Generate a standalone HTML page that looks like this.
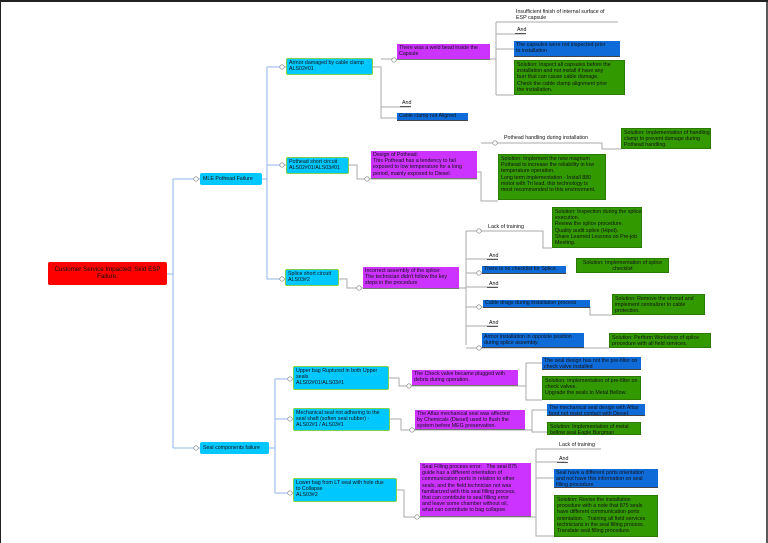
<!DOCTYPE html>
<html><head><meta charset="utf-8"><style>
html,body{margin:0;padding:0;background:#fff}
#c{position:relative;width:768px;height:543px;overflow:hidden;background:#fff;border-top:2px solid #222;border-left:1px solid #222;box-sizing:border-box}
.b{position:absolute;font-family:"Liberation Sans",sans-serif;font-size:5.3px;line-height:6.2px;color:#111;padding:1px 2px;box-sizing:border-box;white-space:nowrap;overflow:visible}
.m{background:#cc33ff;border-bottom:1px solid #777}
.g{background:#339900;border:1px solid #2a7a00}
.u{background:#0f6bd8;border-bottom:1px solid #444}
.c{background:#00c8ff;border:1px solid #7fd04a;border-radius:2px}
.t{border-bottom:1px solid #555;padding:0 2px}
</style></head><body><div id="c">
<svg width="768" height="543" style="position:absolute;left:0;top:0" fill="none">
<line x1="766" y1="0" x2="766" y2="543" stroke="#222" stroke-width="1.5"/>
<g stroke="#8fb4e6" stroke-width="1">
<path d="M166 272 H172 M172 177 V446 M172 177 H199 M172 446 H199"/>
<path d="M261 177 H266 M266 65 V277 M266 65 H285 M266 163 H285 M266 277 H284"/>
<path d="M268 446 H274 M274 377 V491 M274 377 H292 M274 417 H292 M274 491 H292"/>
</g>
<g stroke="#aaa" stroke-width="1">
<path d="M372 65 H380 V116 H396 M380 57 H489 M380 105 H410"/>
<path d="M489 57 H495 M495 20 V93 M495 20 H617 M495 32 H525 M495 47 H513 M495 93 H513"/>
<path d="M348 163 H356 V177 H476 M476 170 H480 V199 H497 M480 141 H601 V147 H620"/>
<path d="M338 277 H346 V286 H458 M458 286 H465 M465 229 V343 M465 229 H542 V246 H551 M465 257 H497 M465 271 H565 M465 285 H497 M465 305 H589 V313 H611 M465 324 H497 M465 346 H608"/>
<path d="M388 376 H398 V384 H517 M517 384 H525 M525 361 V398 H541 M525 361 H541"/>
<path d="M389 417 H400 V428 H524 M524 428 H531 M531 408 V430 H546 M531 408 H546"/>
<path d="M396 488 H403 V515 H530 M530 515 H535 M535 447 V534 H553 M535 447 H600 M535 460 H565 M535 476 H553"/>
</g>
<g stroke="#777" stroke-width="0.6" fill="#fff">
<circle cx="195" cy="177" r="2.2"/><circle cx="195" cy="446" r="2.2"/>
<circle cx="281" cy="65" r="2.2"/><circle cx="281" cy="163" r="2.2"/><circle cx="281" cy="277" r="2.2"/>
<circle cx="289" cy="377" r="2.2"/><circle cx="289" cy="417" r="2.2"/><circle cx="289" cy="491" r="2.2"/>
<circle cx="393" cy="58" r="2.2"/><circle cx="366" cy="177" r="2.2"/><circle cx="358" cy="286" r="2.2"/>
<circle cx="408" cy="384" r="2.2"/><circle cx="411" cy="428" r="2.2"/><circle cx="416" cy="515" r="2.2"/>
<circle cx="494" cy="141" r="2.2"/><circle cx="478" cy="229" r="2.2"/><circle cx="478" cy="271" r="2.2"/><circle cx="478" cy="305" r="2.2"/><circle cx="478" cy="346" r="2.2"/>
</g>
</svg>
<div class="b" style="left:47px;top:260px;width:119px;height:23px;background:#f00;border-radius:2px;text-align:center;white-space:normal;font-size:6.2px;line-height:7.4px;padding-top:4px">Customer Service Impacted; Skid ESP Failure.</div>
<div class="b c" style="left:199px;top:171px;width:62px;height:12px;padding-top:2px;border-color:#00c8ff">MLE Pothead Failure</div>
<div class="b c" style="left:199px;top:440px;width:69px;height:12px;padding-top:2px;border-color:#00c8ff">Seal components failure</div>
<div class="b c" style="left:285px;top:56px;width:87px;height:17px">Armor damaged by cable clamp<br>ALS02#01</div>
<div class="b c" style="left:285px;top:155px;width:63px;height:17px">Pothead short circuit<br>ALS02#01/ALS03#01</div>
<div class="b c" style="left:284px;top:267px;width:54px;height:17px">Splice short circuit<br>ALS03#2</div>
<div class="b c" style="left:292px;top:364px;width:96px;height:24px">Upper bag Ruptured in both Upper<br>seals<br>ALS02#01/ALS03#1</div>
<div class="b c" style="left:292px;top:406px;width:97px;height:23px">Mechanical seal not adhering to the<br>seal shaft (soften seal rubber) -<br>ALS02#1 / ALS03#1</div>
<div class="b c" style="left:292px;top:476px;width:104px;height:24px">Lower bag from LT seal with hole due<br>to Collapse<br>ALS03#2</div>
<div class="b m" style="left:396px;top:42px;width:93px;height:16px">There was a weld bead inside the<br>Capsule</div>
<div class="b m" style="left:370px;top:149px;width:106px;height:28px">Design of Pothead:<br>This Pothead has a tendency to fail<br>exposed to low temperature for a long<br>period, mainly exposed to Diesel.</div>
<div class="b m" style="left:362px;top:265px;width:96px;height:22px">Incorrect assembly of the splice:<br>The technician didn't follow the key<br>steps in the procedure</div>
<div class="b m" style="left:411px;top:368px;width:106px;height:16px">The Check valve became plugged with<br>debris during operation.</div>
<div class="b m" style="left:414px;top:408px;width:110px;height:20px">The Aflas mechanical seal was affected<br>by Chemicals (Diesel) used to flush the<br>system before MEG preservation.</div>
<div class="b m" style="left:419px;top:461px;width:111px;height:54px">Seal Filling process error:&nbsp;&nbsp; The seal 875<br>guide has a different orientation of<br>communication ports in relation to other<br>seals, and the field technician not was<br>familiarized with this seal filling process,<br>that can contribute to seal filling error<br>and leave some chamber without oil,<br>what can contribute to bag collapse.</div>
<div class="b t" style="left:399px;top:98px;width:11px;border-color:#555">And</div>
<div class="b u" style="left:396px;top:111px;width:71px;height:8px;padding-top:0">Cable clamp not Aligned</div>
<div class="b" style="left:513px;top:6px">Insufficient finish of internal surface of<br>ESP capsule</div>
<div class="b t" style="left:514px;top:25px;width:11px">And</div>
<div class="b u" style="left:513px;top:39px;width:106px;height:16px">The capsules were not inspected prior<br>to installation</div>
<div class="b g" style="left:513px;top:58px;width:111px;height:35px">Solution: Inspect all capsules before the<br>installation and not install if have any<br>burr that can cause cable damage.<br>Check the cable clamp alignment prior<br>the installation.</div>
<div class="b" style="left:501px;top:132px">Pothead handling during installation</div>
<div class="b g" style="left:620px;top:126px;width:90px;height:21px">Solution: Implementation of handling<br>clamp to prevent damage during<br>Pothead handling.</div>
<div class="b g" style="left:497px;top:152px;width:108px;height:46px">Solution: Implement the new magnum<br>Pothead to increase the reliability in low<br>temperature operation.<br>Long term implementation - Install 880<br>motor with Tri lead, this technology is<br>most recommended to this environment.</div>
<div class="b" style="left:485px;top:221px">Lack of training</div>
<div class="b g" style="left:551px;top:205px;width:90px;height:41px">Solution: Inspection during the splice<br>execution.<br>Review the splice procedure.<br>Quality audit splice (Hipot).<br>Share Learned Lessons on Pre-job<br>Meeting.</div>
<div class="b t" style="left:486px;top:251px;width:11px">And</div>
<div class="b u" style="left:481px;top:264px;width:84px;height:8px;padding-top:0">There is no checklist for Splice.</div>
<div class="b g" style="left:575px;top:256px;width:93px;height:15px;text-align:center">Solution: Implementation of splice<br>checklist</div>
<div class="b t" style="left:486px;top:279px;width:11px">And</div>
<div class="b u" style="left:482px;top:298px;width:107px;height:8px;padding-top:0">Cable drags during installation process</div>
<div class="b g" style="left:611px;top:292px;width:93px;height:21px">Solution: Remove the shroud and<br>implement centralizer to cable<br>protection.</div>
<div class="b t" style="left:486px;top:318px;width:11px">And</div>
<div class="b u" style="left:481px;top:331px;width:102px;height:15px">Armor installation in opposite position<br>during splice assembly.</div>
<div class="b g" style="left:608px;top:331px;width:102px;height:15px">Solution: Perform Workshop of splice<br>procedure with all field services.</div>
<div class="b u" style="left:541px;top:355px;width:99px;height:13px">The seal design has not the pre-filter on<br>check valve installed</div>
<div class="b g" style="left:541px;top:374px;width:99px;height:24px">Solution: Implementation of pre-filter on<br>check valves.<br>Upgrade the seals to Metal Bellow.</div>
<div class="b u" style="left:546px;top:402px;width:98px;height:12px">The mechanical seal design with Aflas<br>boot not resist contact with Diesel.</div>
<div class="b g" style="left:546px;top:420px;width:94px;height:13px">Solution: Implementation of metal<br>bellow seal Eagle Burgman</div>
<div class="b" style="left:556px;top:439px">Lack of training</div>
<div class="b t" style="left:556px;top:454px;width:11px">And</div>
<div class="b u" style="left:553px;top:467px;width:104px;height:19px">Seal have a different ports orientation<br>and not have this information on seal<br>filling procedure</div>
<div class="b g" style="left:553px;top:493px;width:104px;height:42px">Solution: Revise the installation<br>procedure with a note that 875 seals<br>have different communication ports<br>orientation.&nbsp;&nbsp; Training all field services<br>technicians in the seal filling process.<br>Translate seal filling procedure.</div>
</div></body></html>
